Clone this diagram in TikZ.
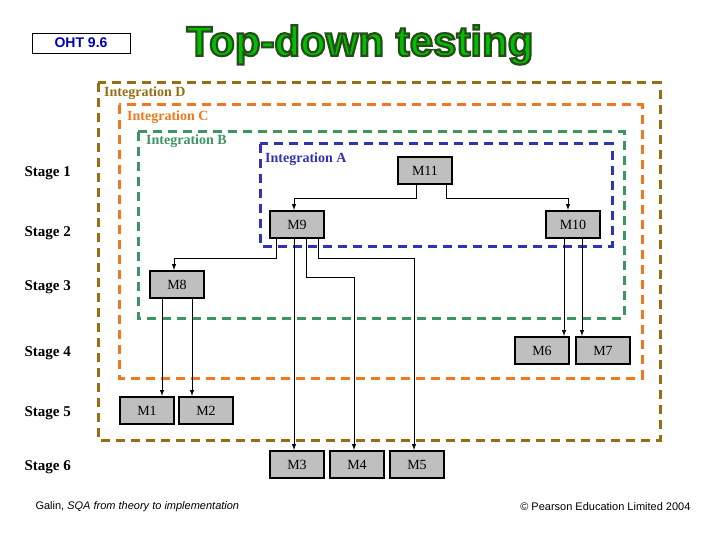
\documentclass[tikz,border=0pt]{standalone}
\usepackage{fontspec}
\setmainfont{Liberation Serif}
\newfontfamily\sans{Liberation Sans}
\definecolor{cD}{RGB}{150,110,20}
\definecolor{cC}{RGB}{240,120,30}
\definecolor{cB}{RGB}{60,150,100}
\definecolor{cA}{RGB}{50,50,180}
\begin{document}
\begin{tikzpicture}[x=1pt,y=-1pt,
  mod/.style={draw=black,line width=2.2pt,fill=black!25,minimum width=54pt,minimum height=27pt,inner sep=0pt,font=\fontsize{14}{14}\selectfont},
  stage/.style={anchor=west,font=\bfseries\fontsize{15}{15}\selectfont},
  integ/.style={anchor=west,font=\bfseries\fontsize{14}{14}\selectfont,inner sep=0pt},
  box/.style={dashed,line width=3pt,dash pattern=on 9pt off 6pt},
  conn/.style={line width=1pt},
  arr/.style={conn,-latex}]
\useasboundingbox (0,0) rectangle (720,540);
% title
\node[draw=black,line width=0.8pt,minimum width=98pt,minimum height=20pt,inner sep=0pt,font=\sans\bfseries\fontsize{14}{14}\selectfont,text=blue!70!black] (oht) at (81,43) {OHT 9.6};
\node[font=\sans\bfseries\fontsize{42}{42}\selectfont] (title) at (360,45) {{\color{green!75!black}\special{pdf:literal direct 2 Tr 2.2 w 0.15 0.3 0.1 RG}Top-down testing\special{pdf:literal direct 0 Tr}}};
% integration boxes
\draw[box,draw=cD] (98,83) rectangle (660,440);
\draw[box,draw=cC] (119,105) rectangle (642,378);
\draw[box,draw=cB] (138,132) rectangle (624,318);
\draw[box,draw=cA] (260,144) rectangle (612,246);
\node[integ,text=cD] (iD) at (104,93) {Integration D};
\node[integ,text=cC] (iC) at (127,117) {Integration C};
\node[integ,text=cB] (iB) at (146,141) {Integration B};
\node[integ,text=cA] (iA) at (265,159) {Integration A};
% stages
\node[stage] (s1) at (21,173) {Stage 1};
\node[stage] (s2) at (21,233) {Stage 2};
\node[stage] (s3) at (21,287) {Stage 3};
\node[stage] (s4) at (21,353) {Stage 4};
\node[stage] (s5) at (21,413) {Stage 5};
\node[stage] (s6) at (21,467) {Stage 6};
% modules
\node[mod] (m11) at (425,170.5) {M11};
\node[mod] (m9) at (297,224.5) {M9};
\node[mod] (m10) at (573,224.5) {M10};
\node[mod] (m8) at (177,284.5) {M8};
\node[mod] (m6) at (542,350.5) {M6};
\node[mod] (m7) at (603,350.5) {M7};
\node[mod] (m1) at (147,410.5) {M1};
\node[mod] (m2) at (206,410.5) {M2};
\node[mod] (m3) at (297,464.5) {M3};
\node[mod] (m4) at (357,464.5) {M4};
\node[mod] (m5) at (417,464.5) {M5};
% connectors
\draw[arr] (m11.south -| 416,0) |- (294,199) -- (m9.north -| 294,0);
\draw[arr] (m11.south -| 446,0) |- (568,199) -- (m10.north -| 568,0);
\draw[arr] (m9.south -| 276,0) |- (174,258) -- (m8.north -| 174,0);
\draw[arr] (m9.south -| 294,0) -- (m3.north -| 294,0);
\draw[arr] (m9.south -| 306,0) |- (354,277) -- (m4.north -| 354,0);
\draw[arr] (m9.south -| 318,0) |- (414,258) -- (m5.north -| 414,0);
\draw[arr] (m10.south -| 564,0) -- (m6.north -| 564,0);
\draw[arr] (m10.south -| 582,0) -- (m7.north -| 582,0);
\draw[arr] (m8.south -| 162,0) -- (m1.north -| 162,0);
\draw[arr] (m8.south -| 192,0) -- (m2.north -| 192,0);
% footer
\node[anchor=west,font=\sans\fontsize{11}{11}\selectfont] (f1) at (32,507) {Galin, \textit{SQA from theory to implementation}};
\node[anchor=east,font=\sans\fontsize{11}{11}\selectfont] (f2) at (694,507) {© Pearson Education Limited 2004};
\end{tikzpicture}
\end{document}
